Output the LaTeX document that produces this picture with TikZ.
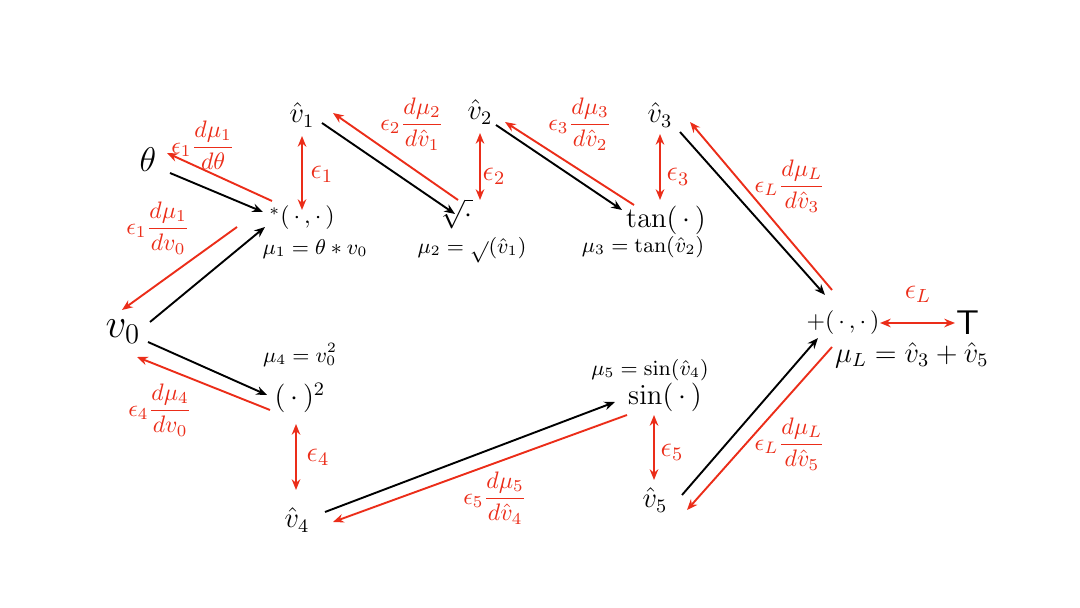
\documentclass[tikz,border=0pt]{standalone}
\usepackage{amsmath}
\usetikzlibrary{arrows.meta}
\definecolor{rd}{RGB}{235,45,25}
\begin{document}
\begin{tikzpicture}[x=0.42pt,y=-0.42pt,
  fw/.style={-{Stealth[length=4.5pt,width=3.6pt]},line width=0.8pt,black},
  bw/.style={-{Stealth[length=4.5pt,width=3.6pt]},line width=0.8pt,rd},
  dw/.style={{Stealth[length=4.5pt,width=3.6pt]}-{Stealth[length=4.5pt,width=3.6pt]},line width=0.8pt,rd},
  lab/.style={text=rd,inner sep=0pt},
  sm/.style={font=\small,inner sep=0pt}]
\useasboundingbox (0,0) rectangle (1080,608);
% nodes
\node (th) at (148,160) {\Large $\theta$};
\node (v0) at (123,332) {\LARGE $v_0$};
\node (mul) at (302,218) {$^*(\,\cdot\,,\cdot\,)$};
\node[sm] (m1) at (315,249) {$\mu_1=\theta * v_0$};
\node (v1) at (302,115) {\large $\hat v_1$};
\node (sq) at (457,214) {\large $\sqrt{\cdot}$};
\node[sm] (m2) at (472,250) {$\mu_2=\sqrt{}(\hat v_1)$};
\node (v2) at (480,112) {\large $\hat v_2$};
\node (tn) at (666,220) {\large $\tan(\,\cdot\,)$};
\node[sm] (m3) at (643,247) {$\mu_3=\tan(\hat v_2)$};
\node (v3) at (660,115) {\large $\hat v_3$};
\node (pl) at (843,323) {$+(\,\cdot\,,\cdot\,)$};
\node (mL) at (912,355) {\large $\mu_L=\hat v_3+\hat v_5$};
\node (T) at (968,323) {\Large\sffamily T};
\node (sqr) at (300,398) {\large $(\,\cdot\,)^2$};
\node[sm] (m4) at (300,355) {$\mu_4=v_0^2$};
\node (v4) at (297,520) {\large $\hat v_4$};
\node (sn) at (665,397) {\large $\sin(\,\cdot\,)$};
\node[sm] (m5) at (650,370) {$\mu_5=\sin(\hat v_4)$};
\node (v5) at (655,500) {\large $\hat v_5$};
% endpoints
\foreach \n/\x/\y in {a1/170/173,a2/263/212,b1/150/322,b2/265/227,c1/322/123,c2/455/214,
  d1/496/125,d2/622/210,e1/680/132,e2/825/295,f1/148/342,f2/267/395,g1/325/512,g2/615/402,
  h1/682/495,h2/818/338,
  r1/272/201,r2/167/153,s1/237/227,s2/122/310,t1/458/200,t2/333/113,u1/634/205,u2/505/122,
  w1/832/290,w2/690/122,x1/270/410,x2/137/357,y1/627/415,y2/333/522,z1/832/347,z2/687/510,
  p1/302/136,p2/302/210,q1/480/133,q2/480/200,k1/660/134,k2/660/200,l1/296/424,l2/296/490,
  n1/654/415,n2/654/480,o1/880/323,o2/955/323}
  \coordinate (\n) at (\x,\y);
\foreach \a/\b in {a1/a2,b1/b2,c1/c2,d1/d2,e1/e2,f1/f2,g1/g2,h1/h2} \draw[fw] (\a)--(\b);
\foreach \a/\b in {r1/r2,s1/s2,t1/t2,u1/u2,w1/w2,x1/x2,y1/y2,z1/z2} \draw[bw] (\a)--(\b);
\foreach \a/\b in {p1/p2,q1/q2,k1/k2,l1/l2,n1/n2,o1/o2} \draw[dw] (\a)--(\b);
% labels
\node[lab] (le1) at (322,174) {\large $\epsilon_1$};
\node[lab] (le2) at (494,176) {\large $\epsilon_2$};
\node[lab] (le3) at (678,177) {\large $\epsilon_3$};
\node[lab] (le4) at (318,457) {\large $\epsilon_4$};
\node[lab] (le5) at (672,452) {\large $\epsilon_5$};
\node[lab] (leL) at (918,294) {\large $\epsilon_L$};
\node[lab] (g1l) at (203,145) {$\epsilon_1\dfrac{d\mu_1}{d\theta}$};
\node[lab] (g2l) at (158,228) {$\epsilon_1\dfrac{d\mu_1}{dv_0}$};
\node[lab] (g3l) at (412,124) {$\epsilon_2\dfrac{d\mu_2}{d\hat v_1}$};
\node[lab] (g4l) at (580,124) {$\epsilon_3\dfrac{d\mu_3}{d\hat v_2}$};
\node[lab] (g5l) at (790,186) {$\epsilon_L\dfrac{d\mu_L}{d\hat v_3}$};
\node[lab] (g6l) at (160,410) {$\epsilon_4\dfrac{d\mu_4}{dv_0}$};
\node[lab] (g7l) at (495,498) {$\epsilon_5\dfrac{d\mu_5}{d\hat v_4}$};
\node[lab] (g8l) at (790,444) {$\epsilon_L\dfrac{d\mu_L}{d\hat v_5}$};
\end{tikzpicture}
\end{document}
